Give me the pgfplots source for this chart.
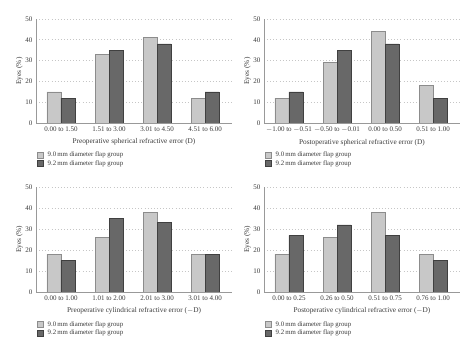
\documentclass[border=0pt]{standalone}
\usepackage{pgfplots}
\pgfplotsset{compat=1.18}
\usepackage{fontspec}
\setmainfont{Liberation Serif}
\definecolor{lightbar}{HTML}{C8C8C8}
\definecolor{lightedge}{HTML}{8C8C8C}
\definecolor{darkbar}{HTML}{686868}
\definecolor{darkedge}{HTML}{404040}
\definecolor{txt}{HTML}{3A3A3A}
\pgfplotsset{
  panel/.style={
    scale only axis, width=196pt, height=104pt,
    ybar=0pt, bar width=14pt,
    ymin=0, ymax=50, ytick={0,10,20,30,40,50},
    xmin=-0.52, xmax=3.56, xtick=data,
    axis x line*=bottom, axis y line*=left,
    axis line style={-, draw=gray!80, line width=0.8pt},
    major tick length=0pt,
    ymajorgrids, grid style={dash pattern=on 0.9pt off 2.2pt, gray!45, line width=0.7pt},
    tick label style={font=\fontsize{7}{8}\selectfont, text=txt},
    label style={font=\fontsize{7.3}{8}\selectfont, text=txt},
    ylabel={Eyes (\%)},
    ylabel style={yshift=-4pt},
    xlabel style={yshift=0pt},
    /pgf/number format/assume math mode=true,
    legend style={at={(0.005,-0.265)}, anchor=north west, draw=none, fill=none,
      font=\fontsize{6.8}{7}\selectfont, text=txt, row sep=0pt,
      inner xsep=0pt, inner ysep=0pt,
      nodes={inner ysep=1.2pt, inner xsep=1pt}},
    legend cell align=left,
    legend image code/.code={\draw[#1] (0pt,-2.9pt) rectangle (6pt,3.1pt); \path (9pt,0pt);},
  },
  lightb/.style={fill=lightbar, draw=lightedge, line width=0.5pt},
  darkb/.style={fill=darkbar, draw=darkedge, line width=0.5pt},
}
\begin{document}
\begin{tikzpicture}
\useasboundingbox (0,0) rectangle (474pt,353pt);
% Panel 1
\begin{axis}[panel, at={(36pt,230pt)}, anchor=south west,
  xticklabels={0.00 to 1.50, 1.51 to 3.00, 3.01 to 4.50, 4.51 to 6.00},
  xlabel={Preoperative spherical refractive error (D)}]
\addplot[lightb] coordinates {(0,15) (1,33) (2,41) (3,12)};
\addplot[darkb] coordinates {(0,12) (1,35) (2,38) (3,15)};
\legend{9.0\,mm diameter flap group, 9.2\,mm diameter flap group}
\end{axis}
% Panel 2
\begin{axis}[panel, at={(264pt,230pt)}, anchor=south west,
  xticklabels={$-$1.00 to $-$0.51, $-$0.50 to $-$0.01, 0.00 to 0.50, 0.51 to 1.00},
  xlabel={Postoperative spherical refractive error (D)}]
\addplot[lightb] coordinates {(0,12) (1,29) (2,44) (3,18)};
\addplot[darkb] coordinates {(0,15) (1,35) (2,38) (3,12)};
\legend{9.0\,mm diameter flap group, 9.2\,mm diameter flap group}
\end{axis}
% Panel 3
\begin{axis}[panel, at={(36pt,61pt)}, anchor=south west, height=105pt,
  xticklabels={0.00 to 1.00, 1.01 to 2.00, 2.01 to 3.00, 3.01 to 4.00},
  xlabel={Preoperative cylindrical refractive error ($-$D)}]
\addplot[lightb] coordinates {(0,18) (1,26) (2,38) (3,18)};
\addplot[darkb] coordinates {(0,15) (1,35) (2,33) (3,18)};
\legend{9.0\,mm diameter flap group, 9.2\,mm diameter flap group}
\end{axis}
% Panel 4
\begin{axis}[panel, at={(264pt,61pt)}, anchor=south west, height=105pt,
  xticklabels={0.00 to 0.25, 0.26 to 0.50, 0.51 to 0.75, 0.76 to 1.00},
  xlabel={Postoperative cylindrical refractive error ($-$D)}]
\addplot[lightb] coordinates {(0,18) (1,26) (2,38) (3,18)};
\addplot[darkb] coordinates {(0,27) (1,32) (2,27) (3,15)};
\legend{9.0\,mm diameter flap group, 9.2\,mm diameter flap group}
\end{axis}
\end{tikzpicture}
\end{document}
